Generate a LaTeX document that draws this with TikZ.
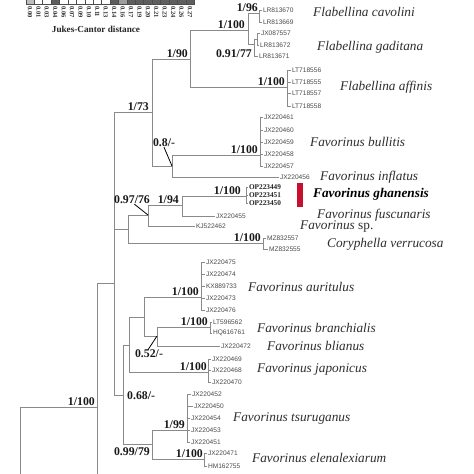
\documentclass[tikz,border=0pt]{standalone}
\usepackage{fontspec}
\setmainfont{Liberation Serif}
\newfontfamily\tipfont{Liberation Sans}
\definecolor{brc}{HTML}{8A8A8A}
\definecolor{spc}{HTML}{2E2E2E}
\definecolor{tipc}{HTML}{4A4A4A}
\definecolor{ghred}{HTML}{C8102E}
\definecolor{cellA}{HTML}{BDBDBD}
\definecolor{cellB}{HTML}{5E5E5E}
\definecolor{cellC}{HTML}{9C9C9C}
\tikzset{
  br/.style={draw=brc, line width=0.7pt},
  tiplab/.style={anchor=west, inner sep=0.8pt, font=\tipfont\fontsize{6.6}{7}\selectfont, text=tipc},
  optip/.style={anchor=west, inner sep=0.8pt, font=\fontsize{7.3}{8}\selectfont\bfseries, text=black!85},
  sup/.style={inner sep=0pt, font=\fontsize{11.8}{13}\selectfont\bfseries, text=black!90},
  spn/.style={anchor=west, inner sep=0pt, font=\fontsize{13.3}{15}\selectfont\itshape, text=spc},
  cellbox/.style={draw=black!70, line width=0.4pt},
  ticklab/.style={rotate=-90, anchor=west, inner sep=0pt, font=\fontsize{6.5}{7}\selectfont\bfseries, text=black!80},
  slash/.style={draw=black, line width=0.8pt}
}
\begin{document}
\begin{tikzpicture}[x=1pt,y=-1pt]
\useasboundingbox (0,0) rectangle (474,474);
\fill[white] (0,0) rectangle (474,474);
% ---------- distance legend ----------
\foreach \i in {0,...,19}{
  \pgfmathsetmacro{\xa}{25.8+8.42*\i}
  \pgfmathsetmacro{\xb}{34.2+8.42*\i}
  \ifnum\i=0 \def\cc{cellA}\else
  \ifnum\i=3 \def\cc{cellB}\else
  \ifnum\i=11 \def\cc{cellC}\else
  \ifnum\i>9 \def\cc{cellB}\else \def\cc{white}\fi\fi\fi\fi
  \path[cellbox, fill=\cc] (\xa,-1) rectangle (\xb,4.5);
}
\foreach \lab [count=\k from 0] in {0.00,0.01,0.03,0.04,0.06,0.07,0.09,0.10,0.11,0.13,0.14,0.16,0.17,0.19,0.20,0.21,0.23,0.24,0.26,0.27}{
  \node[ticklab] (tick\k) at ({30+8.42*\k},6) {\lab};
}
\node[font=\fontsize{9.2}{10}\selectfont\bfseries, text=black!85, inner sep=0pt] (jcd) at (96,29) {Jukes-Cantor distance};
% ---------- internal nodes ----------
\coordinate (R) at (20,407);
\coordinate (Rbot) at (20,476);
\coordinate (A) at (97,407);
\coordinate (Abot) at (97,476);
\coordinate (B) at (114,283);
\coordinate (C) at (152,112);
\coordinate (F) at (190,59);
\coordinate (H) at (248,30);
\coordinate (Cav) at (259,13);
\coordinate (Gad) at (254,44);
\coordinate (Gi) at (257,39);
\coordinate (Iaff) at (287,87);
\coordinate (G) at (172,166);
\coordinate (Bul) at (260,155);
\coordinate (D) at (128,229);
\coordinate (Dg) at (148,215);
\coordinate (Gh1) at (182,205);
\coordinate (Gh) at (246,196);
\coordinate (Cory) at (263,243);
\coordinate (E) at (123,395);
\coordinate (Ea) at (129,345);
\coordinate (Eaa) at (144,317);
\coordinate (Aur) at (201,297);
\coordinate (Ebb) at (157,336);
\coordinate (Bra) at (210,327);
\coordinate (Jap) at (208,372);
\coordinate (Eb) at (152,444);
\coordinate (Tsu) at (187,430);
\coordinate (Ele) at (204,459);
% ---------- tips ----------
\node[tiplab] (LR813670) at (262,10) {LR813670};
\node[tiplab] (LR813669) at (262,22) {LR813669};
\node[tiplab] (JX087557) at (260,33) {JX087557};
\node[tiplab] (LR813672) at (259,45) {LR813672};
\node[tiplab] (LR813671) at (258,56) {LR813671};
\node[tiplab] (LT718556) at (291,70) {LT718556};
\node[tiplab] (LT718555) at (291,82) {LT718555};
\node[tiplab] (LT718557) at (291,93) {LT718557};
\node[tiplab] (LT718558) at (291,106) {LT718558};
\node[tiplab] (JX220461) at (263,117) {JX220461};
\node[tiplab] (JX220460) at (263,130) {JX220460};
\node[tiplab] (JX220459) at (263,142) {JX220459};
\node[tiplab] (JX220458) at (263,154) {JX220458};
\node[tiplab] (JX220457) at (263,166) {JX220457};
\node[tiplab] (JX220456) at (279,177) {JX220456};
\node[optip] (OP223449) at (248,187) {OP223449};
\node[optip] (OP223451) at (248,195) {OP223451};
\node[optip] (OP223450) at (248,203) {OP223450};
\node[tiplab] (JX220455) at (215,216) {JX220455};
\node[tiplab] (KJ522462) at (195,226) {KJ522462};
\node[tiplab] (MZ832557) at (266,238) {MZ832557};
\node[tiplab] (MZ832555) at (268,249) {MZ832555};
\node[tiplab] (JX220475) at (205,262) {JX220475};
\node[tiplab] (JX220474) at (205,274) {JX220474};
\node[tiplab] (KX889733) at (205,286) {KX889733};
\node[tiplab] (JX220473) at (205,298) {JX220473};
\node[tiplab] (JX220476) at (205,310) {JX220476};
\node[tiplab] (LT596562) at (212,322) {LT596562};
\node[tiplab] (HQ616761) at (212,333) {HQ616761};
\node[tiplab] (JX220472) at (220,346) {JX220472};
\node[tiplab] (JX220469) at (211,359) {JX220469};
\node[tiplab] (JX220468) at (211,370) {JX220468};
\node[tiplab] (JX220470) at (211,382) {JX220470};
\node[tiplab] (JX220452) at (191,394) {JX220452};
\node[tiplab] (JX220450) at (193,406) {JX220450};
\node[tiplab] (JX220454) at (190,418) {JX220454};
\node[tiplab] (JX220453) at (190,430) {JX220453};
\node[tiplab] (JX220451) at (190,442) {JX220451};
\node[tiplab] (JX220471) at (207,453) {JX220471};
\node[tiplab] (HM162755) at (207,466) {HM162755};
% ---------- branches ----------
\draw[br] (R) |- (A);
\draw[br] (R) -- (Rbot);
\draw[br] (A) |- (B);
\draw[br] (A) -- (Abot);
\draw[br] (B) |- (C);
\draw[br] (B) |- (D);
\draw[br] (B) |- (E);
\draw[br] (C) |- (F);
\draw[br] (C) |- (G);
\draw[br] (F) |- (H);
\draw[br] (F) |- (Iaff);
\draw[br] (H) |- (Cav);
\draw[br] (H) |- (Gad);
\draw[br] (Cav) |- (LR813670);
\draw[br] (Cav) |- (LR813669);
\draw[br] (Gad) |- (Gi);
\draw[br] (Gad) |- (LR813671);
\draw[br] (Gi) |- (JX087557);
\draw[br] (Gi) |- (LR813672);
\draw[br] (Iaff) |- (LT718556);
\draw[br] (Iaff) |- (LT718555);
\draw[br] (Iaff) |- (LT718557);
\draw[br] (Iaff) |- (LT718558);
\draw[br] (G) |- (Bul);
\draw[br] (G) |- (JX220456);
\draw[br] (Bul) |- (JX220461);
\draw[br] (Bul) |- (JX220460);
\draw[br] (Bul) |- (JX220459);
\draw[br] (Bul) |- (JX220458);
\draw[br] (Bul) |- (JX220457);
\draw[br] (D) |- (Dg);
\draw[br] (D) |- (Cory);
\draw[br] (Dg) |- (Gh1);
\draw[br] (Dg) |- (KJ522462);
\draw[br] (Gh1) |- (Gh);
\draw[br] (Gh1) |- (JX220455);
\draw[br] (Gh) |- (OP223449);
\draw[br] (Gh) |- (OP223451);
\draw[br] (Gh) |- (OP223450);
\draw[br] (Cory) |- (MZ832557);
\draw[br] (Cory) |- (MZ832555);
\draw[br] (E) |- (Ea);
\draw[br] (E) |- (Eb);
\draw[br] (Ea) |- (Eaa);
\draw[br] (Ea) |- (Jap);
\draw[br] (Eaa) |- (Aur);
\draw[br] (Eaa) |- (Ebb);
\draw[br] (Aur) |- (JX220475);
\draw[br] (Aur) |- (JX220474);
\draw[br] (Aur) |- (KX889733);
\draw[br] (Aur) |- (JX220473);
\draw[br] (Aur) |- (JX220476);
\draw[br] (Ebb) |- (Bra);
\draw[br] (Ebb) |- (JX220472);
\draw[br] (Bra) |- (LT596562);
\draw[br] (Bra) |- (HQ616761);
\draw[br] (Jap) |- (JX220469);
\draw[br] (Jap) |- (JX220468);
\draw[br] (Jap) |- (JX220470);
\draw[br] (Eb) |- (Tsu);
\draw[br] (Eb) |- (Ele);
\draw[br] (Tsu) |- (JX220452);
\draw[br] (Tsu) |- (JX220450);
\draw[br] (Tsu) |- (JX220454);
\draw[br] (Tsu) |- (JX220453);
\draw[br] (Tsu) |- (JX220451);
\draw[br] (Ele) |- (JX220471);
\draw[br] (Ele) |- (HM162755);
% ---------- support values ----------
\node[sup, anchor=south east] (sA) at ([xshift=-2pt,yshift=1.5pt]A) {1/100};
\node[sup, anchor=south east] (sC) at ([xshift=-3pt,yshift=1.5pt]C) {1/73};
\node[sup, anchor=south east] (sF) at ([xshift=-2pt,yshift=1.5pt]F) {1/90};
\node[sup, anchor=south east] (sH) at ([xshift=-3pt,yshift=1.5pt]H) {1/100};
\node[sup, anchor=south east] (sCav) at ([xshift=-1pt,yshift=1.5pt]Cav) {1/96};
\node[sup, anchor=north east] (sGad) at ([xshift=-2pt,yshift=-5pt]Gad) {0.91/77};
\node[sup, anchor=south east] (sIaff) at ([xshift=-2pt,yshift=1.5pt]Iaff) {1/100};
\node[sup] (sG) at (164,143) {0.8/-};
\draw[slash] (sG.south) -- (G);
\node[sup, anchor=south east] (sBul) at ([xshift=-2pt,yshift=1.5pt]Bul) {1/100};
\node[sup] (sDg) at (132,200) {0.97/76};
\draw[slash] (sDg.300) -- (Dg);
\node[sup, anchor=south east] (sGh1) at ([xshift=-3pt,yshift=1.5pt]Gh1) {1/94};
\node[sup, anchor=south east] (sGh) at ([xshift=-5pt,yshift=1.5pt]Gh) {1/100};
\node[sup, anchor=south east] (sCory) at ([xshift=-2pt,yshift=1.5pt]Cory) {1/100};
\node[sup, anchor=west] (sE) at ([xshift=4pt,yshift=-1pt]E) {0.68/-};
\node[sup, anchor=south east] (sAur) at ([xshift=-2pt,yshift=1.5pt]Aur) {1/100};
\node[sup] (sEbb) at (149,354) {0.52/-};
\draw[slash] ([xshift=-1pt]sEbb.north) -- (Ebb);
\node[sup, anchor=south east] (sBra) at ([xshift=-2pt,yshift=1.5pt]Bra) {1/100};
\node[sup, anchor=south east] (sJap) at ([xshift=-1pt,yshift=1.5pt]Jap) {1/100};
\node[sup, anchor=north east] (sEb) at ([xshift=-2pt,yshift=-3pt]Eb) {0.99/79};
\node[sup, anchor=south east] (sTsu) at ([xshift=-2pt,yshift=1.5pt]Tsu) {1/99};
\node[sup, anchor=south east] (sEle) at ([xshift=-1pt,yshift=1.5pt]Ele) {1/100};
% ---------- species names ----------
\node[spn] (nCav) at (313,12) {Flabellina cavolini};
\node[spn] (nGad) at (317,47) {Flabellina gaditana};
\node[spn] (nAff) at (340,87) {Flabellina affinis};
\node[spn] (nBul) at (310,142) {Favorinus bullitis};
\node[spn] (nInf) at (320,177) {Favorinus inflatus};
\node[fill=ghred, minimum width=5.5pt, minimum height=24pt, inner sep=0pt] (redbar) at (300,195) {};
\node[spn, font=\fontsize{13.3}{15}\selectfont\bfseries\itshape, text=black] (nGha) at (313,194) {Favorinus ghanensis};
\node[spn] (nFus) at (317,215) {Favorinus fuscunaris};
\node[spn] (nSp) at (300,227) {Favorinus \textup{sp.}};
\node[spn] (nCor) at (327,244) {Coryphella verrucosa};
\node[spn] (nAur) at (248,287) {Favorinus auritulus};
\node[spn] (nBra) at (257,328) {Favorinus branchialis};
\node[spn] (nBli) at (267,346) {Favorinus blianus};
\node[spn] (nJap) at (257,370) {Favorinus japonicus};
\node[spn] (nTsu) at (233,419) {Favorinus tsuruganus};
\node[spn] (nEle) at (252,458) {Favorinus elenalexiarum};
\end{tikzpicture}
\end{document}
